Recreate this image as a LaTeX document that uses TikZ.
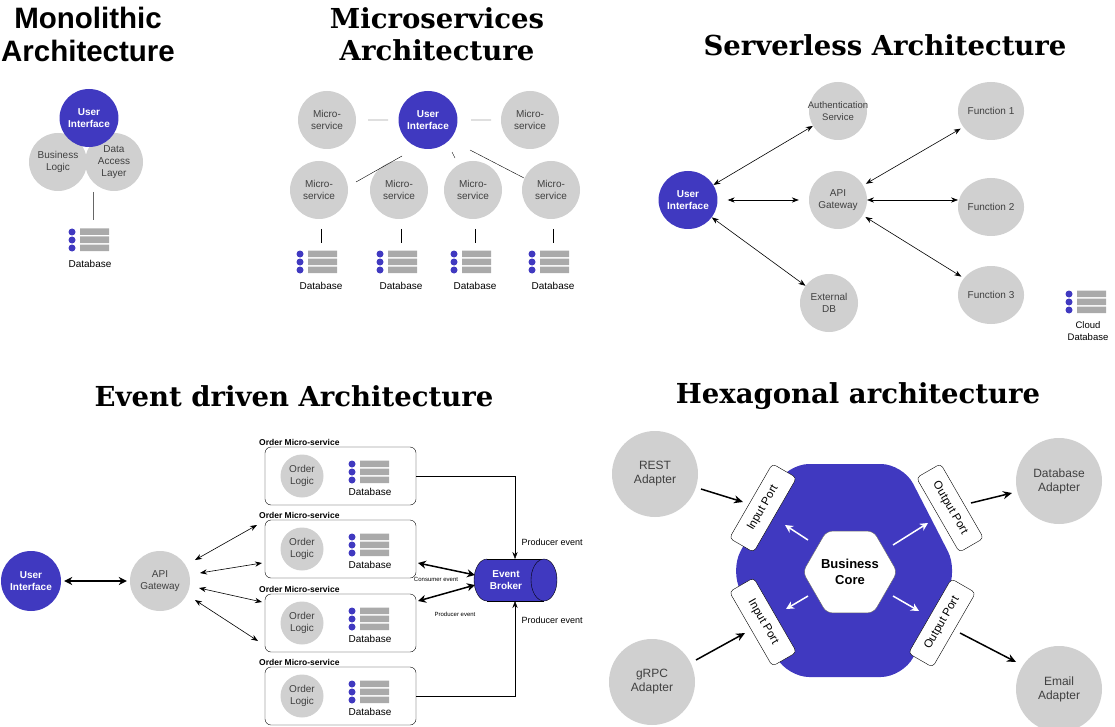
\documentclass[tikz,border=0pt]{standalone}
\usepackage{fontspec}
\setmainfont{Liberation Sans}
\newfontfamily\titleserif{DejaVu Serif}
\usetikzlibrary{arrows.meta,shapes.geometric}
\definecolor{pur}{HTML}{4039C0}
\definecolor{cg}{HTML}{D0D0D0}
\definecolor{bar}{HTML}{AAAAAA}
\begin{document}
\begin{tikzpicture}[x=1pt,y=-1pt,
  circ/.style={ellipse,fill=cg,minimum width=#1,minimum height=#1,inner sep=0pt,align=center,font=\fontsize{10}{12}\selectfont,text=black!75},
  circ/.default=58,
  ui/.style={circ=#1,fill=pur,text=white,font=\bfseries\fontsize{10}{12}\selectfont},
  ui/.default=58,
  ttl/.style={font=\titleserif\bfseries\fontsize{27.5}{32}\selectfont,align=center},
  lab/.style={font=\fontsize{10}{12}\selectfont},
  dbl/.style={{Stealth[length=7pt]}-{Stealth[length=7pt]},line width=0.6pt},
  dblb/.style={{Stealth[length=8pt,width=8pt]}-{Stealth[length=8pt,width=8pt]},line width=1.5pt},
  db/.pic={
    \fill[pur] (4,4) circle (3.5) (4,12) circle (3.5) (4,20) circle (3.5);
    \fill[bar] (12,0.5) rectangle (41,7) (12,8.5) rectangle (41,15) (12,16.5) rectangle (41,23);
  },
  port/.style={draw,fill=white,rounded corners=4pt,minimum width=86pt,minimum height=28pt,font=\fontsize{11.5}{13}\selectfont},
  ad/.style={circ=86,font=\fontsize{12}{14}\selectfont},
  box/.style={draw,rounded corners=6pt,minimum width=151pt,minimum height=58pt},
  bt/.style={font=\bfseries\fontsize{8.5}{10}\selectfont,anchor=south west,inner sep=0pt}
]
\useasboundingbox (0,0) rectangle (1115,727);
% ---------- Monolithic
\node[font=\bfseries\fontsize{29.5}{33}\selectfont,align=center] (t1) at (88,34) {Monolithic\\Architecture};
\node[circ] (bl) at (58,162) {Business\\Logic};
\node[circ] (dal) at (114,162) {Data\\Access\\Layer};
\node[ui] (ui1) at (89,118) {User\\Interface};
\coordinate (m1) at (93,192); \coordinate (m2) at (93,220);
\draw[black!60,line width=0.8pt] (m1) -- (m2);
\pic at (68,228) {db};
\node[lab] (d1) at (90,264) {Database};
% ---------- Microservices
\node[ttl] (t2) at (437,34) {Microservices\\Architecture};
\node[circ] (ms1) at (327,120) {Micro-\\service};
\node[ui] (ui2) at (428,120) {User\\Interface};
\node[circ] (ms2) at (530,120) {Micro-\\service};
\foreach \i/\x in {3/319,4/399,5/473,6/551}{
  \node[circ] (ms\i) at (\x,190) {Micro-\\service};
  \coordinate (v\i a) at (\x+2,229); \coordinate (v\i b) at (\x+2,243);
  \draw (v\i a) -- (v\i b);
  \pic at (\x-23,250) {db};
  \node[lab] (dd\i) at (\x+2,286) {Database};
}
\coordinate (l1) at (368,120); \coordinate (l2) at (388,120);
\coordinate (l3) at (471,120); \coordinate (l4) at (491,120);
\coordinate (l5) at (402,156); \coordinate (l6) at (356,182);
\coordinate (l7) at (470,150); \coordinate (l8) at (524,178);
\draw (l1) -- (l2) (l3) -- (l4) (l5) -- (l6) (l7) -- (l8);
\coordinate (k1) at (452,152); \coordinate (k2) at (455,158);
\draw (k1) -- (k2);
% ---------- Serverless
\node[ttl] (t3) at (885,45) {Serverless Architecture};
\node[ui] (ui3) at (688,200) {User\\Interface};
\node[circ] (auth) at (838,111) {};
\node[align=center,font=\fontsize{9.5}{11.5}\selectfont,text=black!75,inner sep=0pt] (autht) at (838,111) {Authentication\\Service};
\node[circ] (api) at (838,200) {API\\Gateway};
\node[circ] (ext) at (829,303) {External\\DB};
\node[circ] (f1) at (991,111) {Function 1};
\node[circ] (f2) at (991,207) {Function 2};
\node[circ] (f3) at (991,295) {Function 3};
\draw[dbl] (ui3) -- (auth);
\draw[dbl,shorten <=10pt,shorten >=10pt] (ui3) -- (api);
\draw[dbl] (ui3) -- (ext);
\draw[dbl,shorten <=3pt,shorten >=3pt] (api) -- (f1);
\coordinate (s1) at (867,200); \coordinate (s2) at (958,200);
\draw[dbl] (s1) -- (s2);
\draw[dbl,shorten <=3pt,shorten >=3pt] (api) -- (f3);
\pic at (1065,290) {db};
\node[lab,align=center,font=\fontsize{9.5}{11.5}\selectfont] (cdb) at (1088,331) {Cloud\\Database};
% ---------- Event driven
\node[ttl] (t4) at (294,396) {Event driven Architecture};
\node[ui=60] (ui4) at (31,581) {User\\Interface};
\node[circ=60] (api4) at (160,581) {API\\Gateway};
\foreach \i/\y in {1/476,2/549,3/623,4/696}{
  \node[box] (b\i) at (340.5,\y) {};
  \node[bt] (bt\i) at (259,\y-30) {Order Micro-service};
  \node[circ=43] (ol\i) at (302,\y) {Order\\Logic};
  \pic at (348,\y-16) {db};
  \node[lab] (od\i) at (370,\y+16) {Database};
}
% broker
\fill[pur] (487,559) rectangle (544,601);
\fill[pur] (487,580) ellipse [x radius=13,y radius=21];
\draw (487,559) arc[start angle=270,end angle=90,x radius=13,y radius=21];
\draw (487,559) -- (544,559) (487,601) -- (544,601);
\filldraw[fill=pur] (544,580) ellipse [x radius=13,y radius=21];
\node[text=white,font=\bfseries\fontsize{10}{12}\selectfont,align=center] (eb) at (506,580) {Event\\Broker};
\coordinate (ebt) at (515,559); \coordinate (ebb) at (515,601);
\coordinate (c1) at (515,476); \coordinate (c2) at (515,696);
\draw[-{Stealth[length=7pt]}] (b1.east) -- (c1) -- (ebt);
\draw[-{Stealth[length=7pt]}] (b4.east) -- (c2) -- (ebb);
\node[lab,font=\fontsize{9}{11}\selectfont,anchor=west] (pe1) at (518,542) {Producer event};
\node[lab,font=\fontsize{9}{11}\selectfont,anchor=west] (pe2) at (518,620) {Producer event};
\coordinate (e1) at (418,563); \coordinate (e2) at (475,575);
\coordinate (e3) at (418,601); \coordinate (e4) at (475,585);
\draw[dblb] (e1) -- (e2);
\draw[dblb] (e3) -- (e4);
\node[font=\fontsize{6}{7}\selectfont] (ce) at (436,579) {Consumer event};
\node[font=\fontsize{6}{7}\selectfont] (pe3) at (455,614) {Producer event};
\draw[dblb,shorten <=3pt,shorten >=3pt] (ui4) -- (api4);
\coordinate (a1) at (195,560); \coordinate (a2) at (257,525);
\coordinate (a3) at (200,573); \coordinate (a4) at (262,563);
\coordinate (a5) at (199,588); \coordinate (a6) at (262,602);
\coordinate (a7) at (195,600); \coordinate (a8) at (258,641);
\draw[dbl] (a1) -- (a2); \draw[dbl] (a3) -- (a4);
\draw[dbl] (a5) -- (a6); \draw[dbl] (a7) -- (a8);
% ---------- Hexagonal
\node[ttl] (t5) at (858,396) {Hexagonal architecture};
\fill[pur,rounded corners=22pt] (730,571) -- (787,464) -- (903,464) -- (958,571) -- (903,677) -- (787,677) -- cycle;
\node[regular polygon,regular polygon sides=6,fill=white,draw=black!60,rounded corners=6pt,minimum size=88pt,inner sep=0pt,align=center,font=\bfseries\fontsize{13}{16}\selectfont] (core) at (850,572) {Business\\Core};
\node[port,rotate=60] (ip1) at (763,508) {Input Port};
\node[port,rotate=-60] (ip2) at (763,622) {Input Port};
\node[port,rotate=-60] (op1) at (950,508) {Output Port};
\node[port,rotate=60] (op2) at (942,623) {Output Port};
\node[ad] (rest) at (655,474) {REST\\Adapter};
\node[ad] (grpc) at (652,682) {gRPC\\Adapter};
\node[ad] (dba) at (1059,481) {Database\\Adapter};
\node[ad] (ema) at (1059,689) {Email\\Adapter};
\tikzset{thk/.style={-{Stealth[length=9pt,width=8pt]},line width=1.5pt},wa/.style={-{Stealth[length=8pt,width=8pt]},line width=1.5pt,white}}
\coordinate (h1) at (701,489); \coordinate (h2) at (743,502);
\coordinate (h3) at (696,660); \coordinate (h4) at (745,633);
\coordinate (h5) at (971,503); \coordinate (h6) at (1012,493);
\coordinate (h7) at (960,633); \coordinate (h8) at (1016,662);
\draw[thk] (h1) -- (h2); \draw[thk] (h3) -- (h4);
\draw[thk] (h5) -- (h6); \draw[thk] (h7) -- (h8);
\coordinate (w1) at (808,540); \coordinate (w2) at (785,525);
\coordinate (w3) at (893,545); \coordinate (w4) at (928,523);
\coordinate (w5) at (808,596); \coordinate (w6) at (786,609);
\coordinate (w7) at (893,596); \coordinate (w8) at (919,611);
\draw[wa] (w1) -- (w2); \draw[wa] (w3) -- (w4);
\draw[wa] (w5) -- (w6); \draw[wa] (w7) -- (w8);
\end{tikzpicture}
\end{document}
